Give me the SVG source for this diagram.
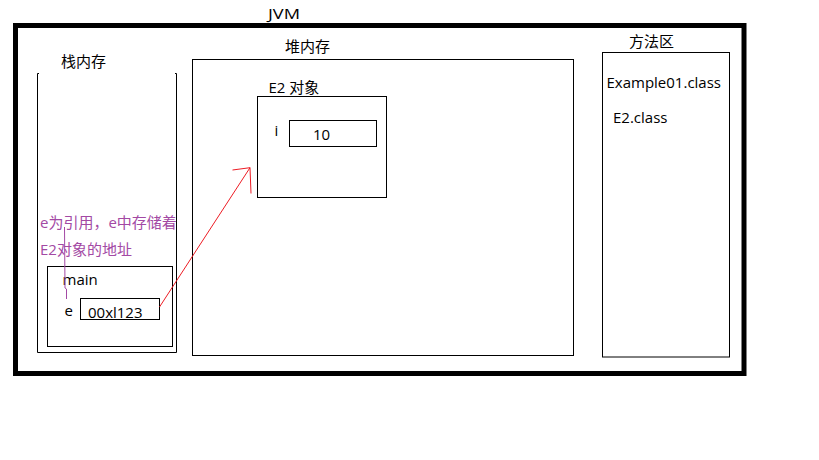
<svg xmlns="http://www.w3.org/2000/svg" width="819" height="460" viewBox="0 0 819 460">
<style>
text{font-family:"Open Sans","Noto Sans CJK SC",sans-serif;font-size:15px;fill:#000}
.box{fill:none;stroke:#000;stroke-width:1}
.note{fill:#A349A4}
</style>
<rect width="819" height="460" fill="#fff"/>
<g id="jvm">
<rect x="15.5" y="25.5" width="728.5" height="348" fill="none" stroke="#000" stroke-width="5"/>
<text x="268" y="19" textLength="32" lengthAdjust="spacingAndGlyphs">JVM</text>
</g>
<g id="stack">
<path class="box" d="M39,73.5 H37.5 V352.5 H176.5 V73.5 H175"/>
<text x="61" y="66.5">栈内存</text>
</g>
<g id="heap">
<rect class="box" x="192.5" y="59.5" width="381" height="296"/>
<text x="285" y="52">堆内存</text>
</g>
<g id="e2obj">
<rect class="box" x="257.5" y="96.5" width="129" height="101"/>
<text x="268.5" y="93.3">E2 对象</text>
<text x="274.5" y="136">i</text>
<rect class="box" x="289.5" y="120.5" width="87" height="26"/>
<text x="313" y="140">10</text>
</g>
<g id="method">
<rect class="box" x="602.5" y="52.5" width="127" height="304.5"/>
<text x="629" y="47">方法区</text>
<text x="606.5" y="88.3">Example01.class</text>
<text x="613" y="123.3">E2.class</text>
</g>
<g id="mainframe">
<rect class="box" x="47.5" y="266.5" width="125" height="80"/>
<text x="62.5" y="285">main</text>
<text x="64.5" y="316">e</text>
<rect class="box" x="80.5" y="298.5" width="79" height="21"/>
<text x="88" y="318">00xl123</text>
</g>
<g id="note">
<text class="note" x="40" y="228">e为引用，e中存储着</text>
<text class="note" x="40" y="254.5">E2对象的地址</text>
</g>
<g id="connectors" fill="none">
<path d="M159.5,307 L250,167.7 M232.5,170 L250,167.7 L251,193.5" stroke="#ED1C24" stroke-width="1"/>
<path d="M64.5,227 L65,288 L66.5,289 L66.5,299" stroke="#A349A4" stroke-width="1"/>
</g>
</svg>
